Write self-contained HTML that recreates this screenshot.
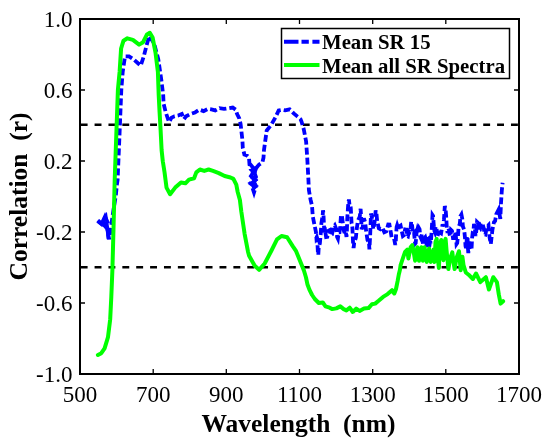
<!DOCTYPE html>
<html><head><meta charset="utf-8"><style>
html,body{margin:0;padding:0;background:#fff;width:550px;height:447px;overflow:hidden}
svg{display:block;will-change:transform}
.tk{font-family:"Liberation Serif",serif;font-size:23px;fill:#000}
.lb{font-family:"Liberation Serif",serif;font-size:25.5px;font-weight:bold;fill:#000}
.lg{font-family:"Liberation Serif",serif;font-size:20.8px;font-weight:bold;fill:#000}
</style></head><body>
<svg width="550" height="447" viewBox="0 0 550 447"><rect x="0" y="0" width="550" height="447" fill="#fff"/><path d="M80.7,124.8H519M80.7,267.3H519" stroke="#000" stroke-width="2.6" stroke-dasharray="6.9,6.98" fill="none"/><path d="M97.9,220.3 L101.3,223.6 L105.7,216.9 L106.8,224.7 L108.0,233.7 L109.1,239.3 L111.3,224.7 L113.6,209.1 L115.8,195.7 L116.9,184.5 L117.6,180.0 L119.5,135.0 L121.3,90.0 L122.7,72.0 L125.0,56.3 L129.0,56.3 L133.7,59.4 L140.7,65.7 L143.8,56.3 L147.0,43.8 L149.3,36.0 L154.0,43.0 L158.3,59.4 L161.3,79.8 L163.2,95.0 L163.6,103.8 L165.8,112.5 L169.0,122.0 L171.6,117.6 L174.5,116.2 L178.2,115.5 L181.8,114.0 L184.0,119.1 L186.2,116.2 L190.5,114.0 L194.9,112.5 L199.3,109.6 L203.6,111.1 L208.0,108.9 L212.4,109.6 L215.3,110.4 L219.6,108.2 L224.0,108.9 L228.4,108.2 L232.7,107.5 L235.6,109.6 L237.1,114.0 L239.3,118.4 L240.6,124.0 L242.4,140.0 L242.8,148.0 L244.4,154.5 L247.0,155.6 L249.0,157.8 L249.5,164.6 L250.6,169.0 L253.5,172.0 L250.5,176.0 L255.0,180.0 L250.8,183.0 L255.5,186.0 L252.5,188.0 L254.0,192.5 L256.0,186.0 L254.0,182.0 L256.0,177.0 L254.5,173.0 L256.2,168.0 L259.0,164.6 L262.4,162.3 L263.5,157.8 L264.0,150.0 L265.2,141.3 L266.7,130.5 L271.1,125.1 L275.4,117.4 L278.7,110.4 L282.0,109.8 L285.3,110.4 L289.6,109.3 L294.0,113.6 L297.3,116.4 L300.5,119.1 L301.6,121.8 L303.8,129.4 L306.1,141.5 L307.2,157.1 L308.4,179.5 L308.9,190.0 L310.5,199.4 L312.0,205.7 L312.8,216.6 L314.4,224.5 L316.0,232.3 L316.4,237.7 L316.8,237.0 L317.1,237.9 L317.5,244.8 L317.9,252.9 L318.3,255.0 L318.7,247.7 L319.1,246.4 L319.9,243.2 L320.7,233.9 L321.4,223.1 L322.2,218.2 L322.6,217.3 L323.0,210.4 L323.4,212.9 L323.8,221.3 L324.2,230.6 L324.6,233.9 L325.4,232.4 L326.1,237.0 L327.3,236.8 L328.5,230.7 L329.7,230.1 L330.9,235.4 L332.0,234.5 L333.2,227.6 L334.8,225.4 L336.3,229.2 L337.1,236.9 L337.9,238.6 L338.7,232.4 L339.5,232.3 L340.2,226.7 L341.0,215.1 L341.8,215.2 L342.6,221.3 L343.8,230.6 L345.0,233.9 L345.8,232.4 L346.5,237.0 L346.9,230.6 L347.3,218.2 L348.1,205.8 L348.9,199.4 L349.6,205.6 L350.4,205.7 L350.8,208.1 L351.2,216.6 L351.6,223.6 L352.0,224.5 L352.4,227.8 L352.8,237.0 L353.2,245.5 L353.6,248.0 L354.4,241.1 L355.1,240.1 L355.9,237.6 L356.7,229.2 L357.9,220.7 L359.0,218.2 L359.8,216.5 L360.6,208.8 L361.1,216.0 L361.6,229.2 L362.8,226.7 L363.9,218.2 L365.1,222.2 L366.3,232.3 L367.5,240.0 L368.6,241.7 L369.0,242.6 L369.4,249.5 L370.2,234.5 L371.0,213.5 L372.1,218.3 L373.3,229.2 L374.5,222.8 L375.7,210.4 L376.4,212.9 L377.2,221.3 L378.8,228.2 L380.4,229.2 L382.4,227.8 L384.3,232.3 L386.2,231.4 L388.2,224.5 L389.4,224.6 L390.5,230.7 L391.7,237.6 L392.9,238.6 L394.1,238.7 L395.3,244.8 L395.7,243.0 L396.1,235.2 L396.6,227.2 L397.2,225.2 L398.4,228.8 L399.5,226.3 L400.6,225.6 L401.7,230.8 L402.9,236.0 L404.0,235.2 L405.1,229.4 L406.2,229.6 L407.0,236.0 L407.9,236.4 L408.8,231.2 L409.6,231.9 L410.4,229.9 L411.2,221.8 L411.8,222.2 L412.4,228.5 L412.9,234.3 L413.5,234.1 L414.1,233.3 L414.6,238.6 L415.1,243.8 L415.7,243.1 L416.5,233.3 L417.4,229.6 L418.2,232.1 L419.1,228.5 L419.6,229.4 L420.2,236.4 L421.0,238.2 L421.9,234.1 L422.4,236.1 L423.0,244.0 L423.6,244.3 L424.1,238.6 L425.2,237.3 L426.4,242.0 L426.7,247.0 L427.0,246.0 L427.8,239.3 L428.6,238.6 L429.1,244.8 L429.5,245.0 L430.1,241.1 L430.8,243.1 L431.6,232.1 L432.5,215.1 L433.1,216.0 L433.6,222.9 L434.2,230.4 L434.8,231.9 L435.6,226.7 L436.4,227.4 L437.2,233.8 L438.1,234.1 L439.1,230.3 L440.1,232.6 L441.1,233.3 L442.0,228.0 L442.6,224.2 L443.2,226.3 L444.0,219.2 L444.8,206.0 L445.6,209.2 L446.3,218.5 L446.8,227.8 L447.3,231.0 L448.6,230.5 L450.0,236.0 L450.5,236.0 L451.0,230.0 L452.0,231.0 L453.0,238.0 L454.0,238.0 L455.0,232.0 L455.8,235.0 L456.5,244.0 L457.2,243.0 L458.0,236.0 L458.5,228.0 L459.0,226.0 L459.8,224.0 L460.5,216.0 L461.4,214.5 L462.3,219.0 L462.9,226.5 L463.5,228.0 L464.2,230.0 L465.0,238.0 L465.5,246.0 L466.0,248.0 L466.8,239.0 L467.5,236.0 L467.9,247.5 L468.3,253.0 L469.1,243.5 L470.0,240.0 L470.8,248.0 L471.5,250.0 L472.1,238.0 L472.8,232.0 L473.4,231.0 L474.0,224.0 L474.8,227.0 L475.5,236.0 L476.2,232.0 L477.0,222.0 L478.0,223.0 L479.0,230.0 L479.9,229.8 L480.7,223.6 L482.2,222.9 L483.8,228.3 L484.6,234.4 L485.4,234.6 L486.9,226.9 L488.5,225.2 L489.6,237.6 L490.8,244.0 L492.4,230.0 L494.0,222.0 L495.1,221.1 L496.3,214.2 L498.7,209.5 L500.3,218.9 L501.0,203.2 L501.8,190.7 L502.6,182.8" stroke="#0000ff" stroke-width="3.8" fill="none" stroke-dasharray="7,3" stroke-linejoin="miter"/><path d="M97.5,221 L101.5,224 L105,216.5 L107.5,222 L103.5,224.5 L107.5,229 L108.5,239 M250,164 L255,170 L251,176 L255.5,180 L251,184 L255,187 L253,189 M256.5,167 L254,174" stroke="#0000ff" stroke-width="3.8" fill="none"/><path d="M97.9,355.0 L101.3,353.2 L104.6,348.3 L108.0,337.1 L110.2,319.2 L111.3,296.8 L112.4,270.0 L113.6,224.7 L114.7,180.0 L116.3,135.0 L117.9,90.0 L119.6,72.0 L121.1,48.5 L123.5,40.7 L127.4,38.3 L132.9,39.9 L139.1,44.6 L143.1,42.2 L147.0,34.4 L149.8,32.8 L152.6,37.5 L155.6,53.2 L157.9,72.0 L158.7,95.0 L159.6,112.4 L160.6,130.0 L161.6,150.0 L162.8,161.2 L164.5,172.0 L166.5,187.6 L170.1,194.2 L175.2,187.6 L181.0,182.5 L185.4,183.3 L189.0,179.6 L194.1,178.2 L196.3,172.4 L199.9,169.5 L204.3,170.9 L208.6,169.5 L213.0,170.9 L218.8,173.1 L224.6,176.0 L230.5,177.5 L233.4,178.9 L236.3,184.7 L237.7,192.0 L239.9,200.0 L241.3,211.5 L244.6,233.8 L248.0,251.7 L249.1,255.7 L254.7,265.7 L259.1,269.8 L264.7,263.5 L271.5,250.5 L277.0,239.4 L281.5,236.0 L287.1,237.2 L292.7,246.1 L296.1,251.2 L301.3,264.0 L304.0,270.8 L306.0,277.5 L307.4,284.2 L309.4,289.6 L312.1,295.0 L314.8,299.0 L318.8,303.0 L322.8,302.5 L325.5,306.4 L329.6,307.7 L332.3,309.1 L336.3,308.4 L340.3,306.4 L343.7,309.1 L346.4,310.4 L349.7,307.7 L352.8,312.0 L356.2,308.6 L359.6,310.9 L364.0,308.6 L368.5,308.1 L371.9,304.2 L375.2,303.6 L378.6,300.8 L383.1,296.9 L387.6,294.1 L392.0,290.2 L394.3,293.5 L396.0,289.0 L397.6,281.2 L398.8,274.5 L399.9,270.0 L400.6,265.2 L402.8,258.5 L405.1,251.8 L407.3,249.6 L408.4,258.5 L410.6,247.3 L412.3,245.1 L414.0,254.0 L415.1,260.8 L417.3,247.3 L419.0,260.8 L421.3,247.3 L422.9,260.8 L424.6,247.3 L426.8,261.9 L429.1,248.5 L430.8,261.9 L433.5,249.6 L434.5,262.0 L435.5,242.0 L436.7,238.9 L437.8,258.0 L438.9,268.0 L440.0,245.0 L441.2,240.0 L442.3,255.0 L443.4,260.2 L444.5,242.0 L445.6,238.9 L446.5,250.0 L448.4,269.1 L450.3,258.0 L452.3,252.3 L453.5,262.0 L454.6,269.1 L456.5,258.0 L459.0,251.2 L460.7,270.2 L462.4,256.8 L463.5,265.0 L465.8,272.5 L468.6,274.7 L472.9,279.0 L476.0,273.5 L480.3,282.1 L485.9,277.2 L488.9,289.5 L493.3,277.2 L496.9,282.1 L498.8,294.4 L500.6,303.6 L503.1,301.2" stroke="#00ff00" stroke-width="4" fill="none" stroke-linejoin="round" stroke-linecap="round"/><rect x="80" y="19" width="439" height="355" fill="none" stroke="#000" stroke-width="2"/><path d="M153.2,374V369M153.2,19V24M226.3,374V369M226.3,19V24M299.5,374V369M299.5,19V24M372.7,374V369M372.7,19V24M445.8,374V369M445.8,19V24M80,90H85M519,90H514M80,161H85M519,161H514M80,232H85M519,232H514M80,303H85M519,303H514" stroke="#000" stroke-width="1.3" fill="none"/><text x="80" y="401.7" text-anchor="middle" class="tk">500</text><text x="153.2" y="401.7" text-anchor="middle" class="tk">700</text><text x="226.3" y="401.7" text-anchor="middle" class="tk">900</text><text x="299.5" y="401.7" text-anchor="middle" class="tk">1100</text><text x="372.7" y="401.7" text-anchor="middle" class="tk">1300</text><text x="445.8" y="401.7" text-anchor="middle" class="tk">1500</text><text x="519" y="401.7" text-anchor="middle" class="tk">1700</text><text x="72.5" y="27" text-anchor="end" class="tk">1.0</text><text x="72.5" y="98" text-anchor="end" class="tk">0.6</text><text x="72.5" y="169" text-anchor="end" class="tk">0.2</text><text x="72.5" y="240" text-anchor="end" class="tk">-0.2</text><text x="72.5" y="311" text-anchor="end" class="tk">-0.6</text><text x="72.5" y="382" text-anchor="end" class="tk">-1.0</text><text x="298.5" y="432" text-anchor="middle" class="lb">Wavelength&#160;&#160;(nm)</text><text transform="translate(27.3,196.5) rotate(-90)" x="0" y="0" text-anchor="middle" class="lb">Correlation&#160;&#160;(r)</text><rect x="281.5" y="28.5" width="228" height="50" fill="#fff" stroke="#000" stroke-width="1.5"/><path d="M284,41.7H319.5" stroke="#0000ff" stroke-width="4" stroke-dasharray="14.5,3,7.3,3.6,7.3"/><path d="M284,65H319.5" stroke="#00ff00" stroke-width="4"/><text x="322" y="48.5" class="lg">Mean SR 15</text><text x="322" y="72.5" class="lg">Mean all SR Spectra</text></svg>
</body></html>
